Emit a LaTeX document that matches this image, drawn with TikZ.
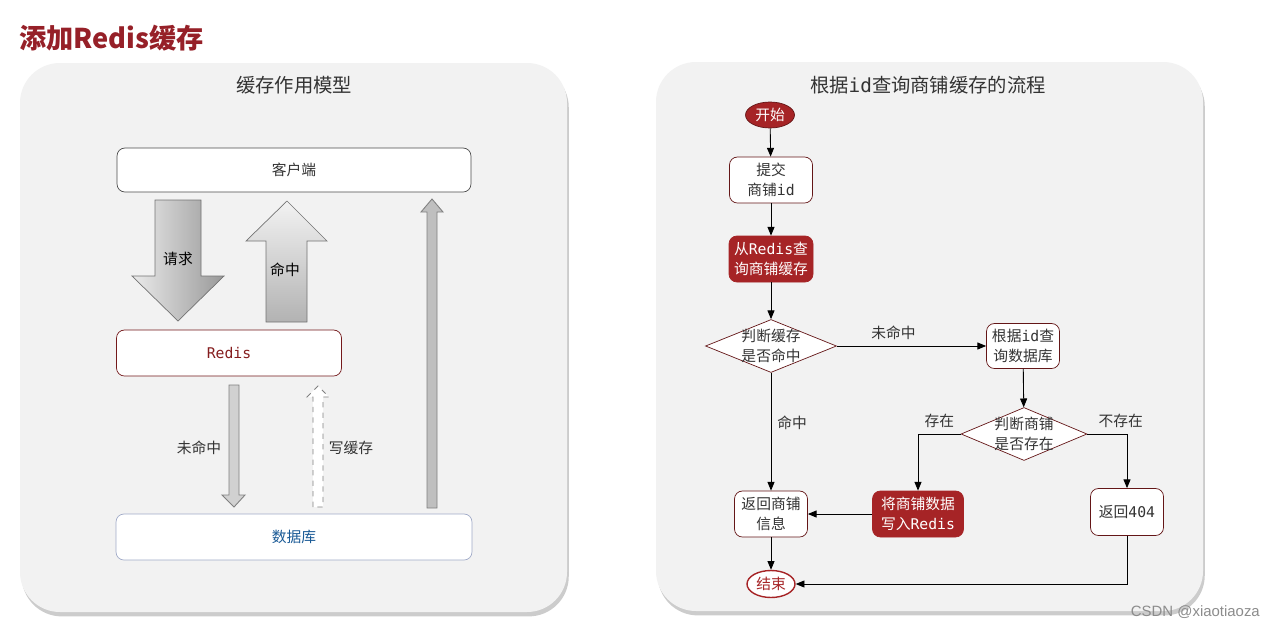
\documentclass[tikz,border=0pt]{standalone}
\usepackage{fontspec}
\setmainfont{Noto Sans CJK SC}
\newfontfamily\codefont{DejaVu Sans Mono}
\newfontfamily\markfont{Liberation Sans}
\usetikzlibrary{shapes.geometric,arrows.meta,shadows}
\definecolor{redisred}{RGB}{166,36,38}
\definecolor{titlered}{RGB}{150,32,40}
\definecolor{panelgray}{RGB}{242,242,242}
\definecolor{inkgray}{RGB}{51,51,51}
\definecolor{dbblue}{RGB}{26,90,150}
\definecolor{dbline}{RGB}{160,170,200}
\newcommand\flowfont{\fontsize{8.4}{11.3}\selectfont}

\begin{document}
\begin{tikzpicture}[x=0.02cm, y=-0.02cm,
  panel/.style={fill=panelgray, rounded corners=0.8cm, drop shadow={shadow xshift=1pt, shadow yshift=-2.5pt, opacity=0.4}},
  modelbox/.style={draw=black!70, fill=white, rounded corners=4.5pt, font=\flowfont, text=inkgray, inner sep=0pt},
  flow/.style={draw=redisred!60!black, fill=white, rounded corners=4.5pt, font=\flowfont, text=inkgray, align=center, inner sep=0pt},
  redbox/.style={flow, fill=redisred, text=white, draw=redisred},
  decision/.style={diamond, draw=redisred!60!black, fill=white, inner sep=0pt},
  endpoint/.style={ellipse, draw=redisred!60!black, inner sep=0pt, font=\flowfont},
  flowline/.style={-{Triangle[length=5pt,width=4pt]}, black, line width=0.5pt},
  flowtag/.style={font=\flowfont, text=inkgray},
  thinarrow/.style={draw=black!50, line width=0.5pt}]
	\useasboundingbox (0,0) rectangle (1277,629);
	\fill[white] (0,0) rectangle (1277,629);
	\node[font=\fontsize{15.5}{18}\selectfont\bfseries, text=titlered, anchor=west] (title) at (13,38) {添加Redis缓存};
	\path[panel] (20,63) rectangle (567,612);
	\path[panel] (656,62) rectangle (1203,611);
	\node[font=\fontsize{11}{13}\selectfont, text=inkgray] (lefthead) at (294,85) {缓存作用模型};
	\node[font=\fontsize{11}{13}\selectfont, text=inkgray] (righthead) at (928,85) {根据{\codefont id}查询商铺缓存的流程};
	% cache model
	\node[modelbox, minimum width=7.08cm, minimum height=0.88cm] (client) at (294,170) {客户端};
	\node[modelbox, draw=redisred!70!black, text=redisred!80!black, minimum width=4.5cm, minimum height=0.92cm] (redis) at (229,353) {\codefont Redis};
	\node[modelbox, draw=dbline, text=dbblue, minimum width=7.12cm, minimum height=0.92cm] (db) at (294,537) {数据库};
	\draw[black!55, left color=black!8, right color=black!40] (155,200) -- (201,200) -- (201,276) -- (224,276) -- (178,321) -- (132,276) -- (155,276) -- cycle;
	\draw[black!55, top color=black!5, bottom color=black!30] (266,322) -- (266,241) -- (246,241) -- (287,201) -- (327,241) -- (307,241) -- (307,322) -- cycle;
	\node[flowtag, text=black] (asklabel) at (178,259) {请求};
	\node[flowtag, text=black] (hitlabel) at (285,270) {命中};
	\draw[thinarrow, fill=black!18] (229,385) -- (239,385) -- (239,495) -- (245,495) -- (234,507) -- (222,495) -- (229,495) -- cycle;
	\draw[thinarrow, dashed, fill=white] (313,507) -- (313,397) -- (307,397) -- (318,386) -- (329,397) -- (323,397) -- (323,507) -- cycle;
	\draw[thinarrow, fill=black!25] (427,508) -- (427,212) -- (421,212) -- (432,199) -- (443,212) -- (437,212) -- (437,508) -- cycle;
	\node[flowtag] (misslabel) at (199,448) {未命中};
	\node[flowtag] (writelabel) at (351,448) {写缓存};
	% query flow
	\node[endpoint, fill=redisred, text=white, minimum width=0.98cm, minimum height=0.52cm] (start) at (770,115) {开始};
	\node[flow, minimum width=1.66cm, minimum height=0.92cm] (submit) at (771,180) {提交\\商铺{\codefont id}};
	\node[redbox, minimum width=1.68cm, minimum height=0.92cm] (query) at (771,259) {从{\codefont Redis}查\\询商铺缓存};
	\node[decision, minimum width=2.62cm, minimum height=1.06cm, label={[flowtag, align=center]center:{判断缓存\\是否命中}}] (cached) at (771,346) {};
	\node[flow, minimum width=1.46cm, minimum height=0.9cm] (dbquery) at (1023,346) {根据{\codefont id}查\\询数据库};
	\node[decision, minimum width=2.52cm, minimum height=1.06cm, label={[flowtag, align=center]center:{判断商铺\\是否存在}}] (found) at (1024,434) {};
	\node[redbox, minimum width=1.82cm, minimum height=0.92cm] (write) at (918,514) {将商铺数据\\写入{\codefont Redis}};
	\node[flow, minimum width=1.46cm, minimum height=0.92cm] (reply) at (771,514) {返回商铺\\信息};
	\node[flow, minimum width=1.46cm, minimum height=0.94cm] (missing) at (1127,512) {返回{\codefont 404}};
	\node[endpoint, fill=white, text=redisred, draw=redisred, line width=0.8pt, minimum width=0.96cm, minimum height=0.54cm] (finish) at (771,584) {结束};
	\draw[flowline] (start) -- (submit);
	\draw[flowline] (submit) -- (query);
	\draw[flowline] (query) -- (cached);
	\draw[flowline] (cached) -- node[flowtag, pos=0.38, above] {未命中} (dbquery);
	\draw[flowline] (cached) -- node[flowtag, pos=0.42, right] {命中} (reply);
	\draw[flowline] (dbquery) -- (found);
	\draw[flowline] (found) -| node[flowtag, pos=0.25, above] {存在} (write);
	\draw[flowline] (found) -| node[flowtag, pos=0.42, above] {不存在} (missing);
	\draw[flowline] (write) -- (reply);
	\draw[flowline] (reply) -- (finish);
	\draw[flowline] (missing) |- (finish);
	\node[font=\markfont\fontsize{8.5}{10}\selectfont, text=black!45, anchor=east] (mark) at (1266,612) {CSDN @xiaotiaoza};
\end{tikzpicture}
\end{document}
